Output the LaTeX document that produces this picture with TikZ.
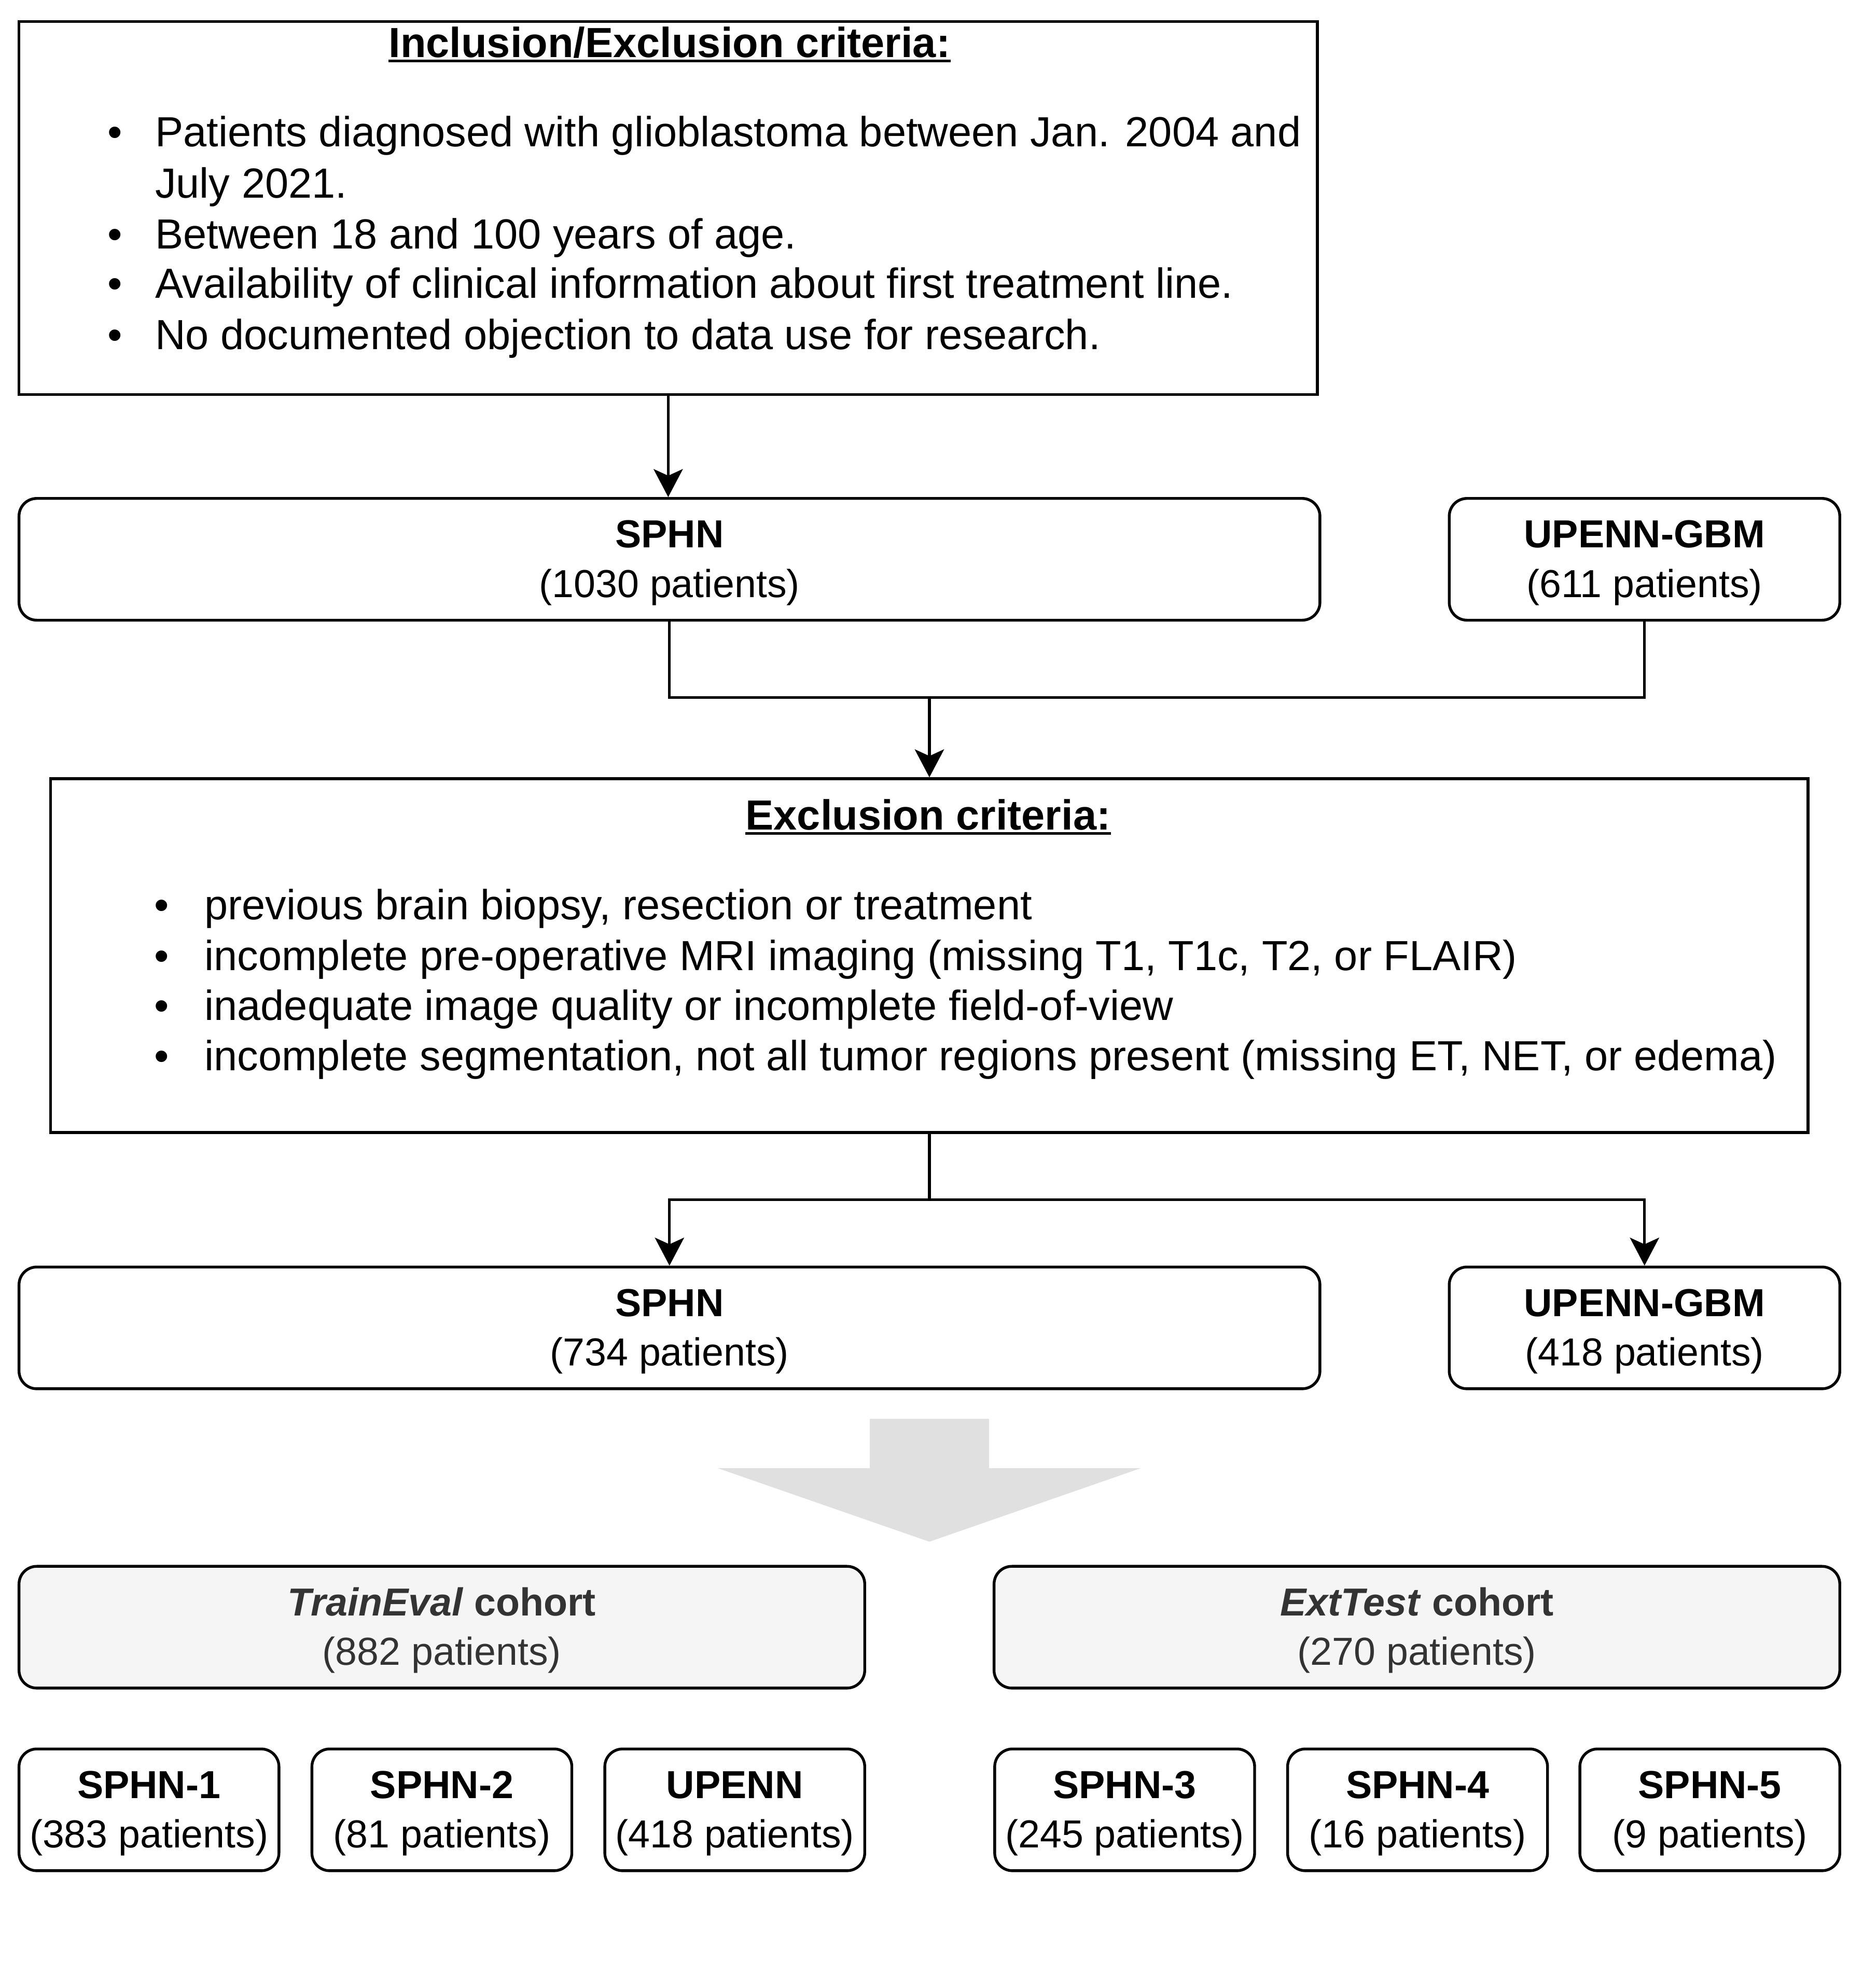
\documentclass[tikz,border=0pt]{standalone}
\usepackage{fontspec}
\setmainfont{Liberation Sans}
\usetikzlibrary{arrows.meta}
\definecolor{cohortfill}{HTML}{F5F5F5}
\definecolor{cohorttext}{HTML}{333333}
\definecolor{biggray}{HTML}{E0E0E0}
\newcommand\boxfont{\fontsize{15.4pt}{19.5pt}\selectfont}
\newcommand\listfont{\fontsize{16.6pt}{20pt}\selectfont}
\newcommand\bul[1]{\llap{\textbullet\hspace{#1}}}
\newcommand\hs{\rule{0pt}{13.6pt}}
\begin{document}
\begin{tikzpicture}[x=0.5pt, y=-0.5pt,
  sq/.style={draw, line width=1.1pt, inner sep=0pt},
  rbox/.style={draw, line width=1.1pt, rounded corners=7pt, inner sep=0pt, align=center, font=\boxfont},
  cohort/.style={rbox, fill=cohortfill, text=cohorttext},
  small/.style={rbox, minimum width=102.5pt, minimum height=48pt},
  conn/.style={line width=1.1pt},
  arr/.style={line width=1.1pt, -{Stealth[length=11pt, width=11.5pt, inset=2.6pt]}},
  ttl/.style={inner sep=0pt, anchor=base, font=\listfont\bfseries},
  li/.style={inner sep=0pt, anchor=base west, font=\listfont},
  uline/.style={line width=1pt}
]
\fill[white] (0,0) rectangle (1469.3,1567.5);
\useasboundingbox (0,0) rectangle (1469.3,1567.5);

% ---------- Inclusion/Exclusion box ----------
\node[sq, minimum width=512pt, minimum height=147pt] (box1) at (527,164) {};
\node[ttl] (t1) at (528,45.2) {Inclusion/Exclusion criteria:};
\draw[uline] ([yshift=-1.5pt]t1.base west) -- ([yshift=-1.5pt]t1.base east);
\node[li] (a1) at (122,115.5) {\bul{13pt}Patients diagnosed with glioblastoma between Jan. 2004 and};
\node[li] (a1b) at (122,156) {July 2021.};
\node[li] (a2) at (122,196) {\bul{13pt}Between 18 and 100 years of age.};
\node[li] (a3) at (122,235) {\bul{13pt}Availability of clinical information about first treatment line.};
\node[li] (a4) at (122,275.5) {\bul{13pt}No documented objection to data use for research.};

% ---------- first cohorts ----------
\node[rbox, minimum width=513pt, minimum height=48pt] (sphn1) at (528,441) {\hs\textbf{SPHN}\\(1030 patients)};
\node[rbox, minimum width=154pt, minimum height=48pt] (upenn1) at (1297,441) {\hs\textbf{UPENN-GBM}\\(611 patients)};

% ---------- Exclusion box ----------
\node[sq, minimum width=693pt, minimum height=139.5pt] (excl) at (733,753.5) {};
\node[ttl] (t2) at (732,654.3) {Exclusion criteria:};
\draw[uline] ([yshift=-1.5pt]t2.base west) -- ([yshift=-1.5pt]t2.base east);
\node[li] (b1) at (161,725.2) {\bul{14pt}previous brain biopsy, resection or treatment};
\node[li] (b2) at (161,765) {\bul{14pt}incomplete pre-operative MRI imaging (missing T1, T1c, T2, or FLAIR)};
\node[li] (b3) at (161,804.2) {\bul{14pt}inadequate image quality or incomplete field-of-view};
\node[li] (b4) at (161,844) {\bul{14pt}incomplete segmentation, not all tumor regions present (missing ET, NET, or edema)};

% ---------- second cohorts ----------
\node[rbox, minimum width=513pt, minimum height=48pt] (sphn2) at (528,1047) {\hs\textbf{SPHN}\\(734 patients)};
\node[rbox, minimum width=154pt, minimum height=48pt] (upenn2) at (1297,1047) {\hs\textbf{UPENN-GBM}\\(418 patients)};

% ---------- big gray arrow ----------
\fill[biggray] (686,1118.7) -- (780,1118.7) -- (780,1157.6) -- (899.8,1157.6)
  -- (733,1215.6) -- (566,1157.6) -- (686,1157.6) -- cycle;

% ---------- final cohorts ----------
\node[cohort, minimum width=333.5pt, minimum height=48pt] (train) at (348.5,1283) {\hs\textbf{\textit{TrainEval}} \textbf{cohort}\\(882 patients)};
\node[cohort, minimum width=333.5pt, minimum height=48pt] (ext) at (1117.5,1283) {\hs\textbf{\textit{ExtTest}} \textbf{cohort}\\(270 patients)};

\node[small] (s1) at (117.5,1427) {\hs\textbf{SPHN-1}\\(383 patients)};
\node[small] (s2) at (348.5,1427) {\hs\textbf{SPHN-2}\\(81 patients)};
\node[small] (s3) at (579.5,1427) {\hs\textbf{UPENN}\\(418 patients)};
\node[small] (s4) at (887,1427) {\hs\textbf{SPHN-3}\\(245 patients)};
\node[small] (s5) at (1118,1427) {\hs\textbf{SPHN-4}\\(16 patients)};
\node[small] (s6) at (1348.5,1427) {\hs\textbf{SPHN-5}\\(9 patients)};

% ---------- connectors ----------
\draw[arr] (box1.south) -- (box1.south |- sphn1.north);
\coordinate (j1) at (733,550);
\draw[conn] (sphn1.south) |- (j1);
\draw[conn] (upenn1.south) |- (j1);
\draw[arr] (j1) -- (excl.north);
\coordinate (j2) at (733,946);
\draw[conn] (excl.south) -- (j2);
\draw[arr] (j2) -| (sphn2.north);
\draw[arr] (j2) -| (upenn2.north);
\end{tikzpicture}
\end{document}
